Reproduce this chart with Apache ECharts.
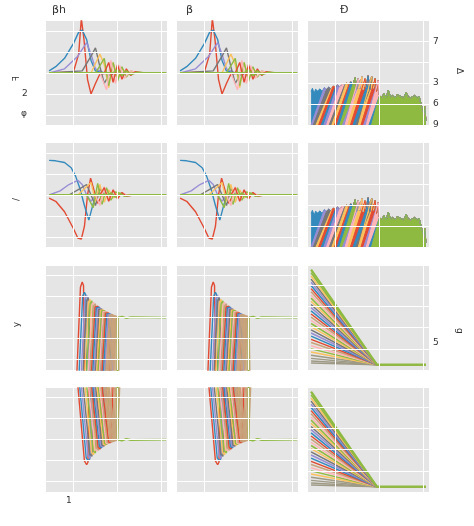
<!DOCTYPE html><html><head><meta charset="utf-8"><script src="https://cdn.jsdelivr.net/npm/echarts@6/dist/echarts.min.js"></script>
<style>html,body{margin:0;padding:0;background:#fff}#c{width:474px;height:526px}</style></head><body><div id="c"></div>
<script>
const palette=['#E24A33','#348ABD','#988ED5','#777777','#FBC15E','#8EBA42','#FFB5B8','#C8A27A'];
const xGridVals=[1,2,3];
const yGridSym=[-2,-1,0,1,2];
const yGridC3a=[1,2,3,4];
const yGridC3b=[0.75,1.75,2.75,3.75];
// row 1 (columns 1 & 2)
const row1Series=[
 [[0.45,0],[1.0,0.05],[1.12,0.9],[1.18,2.6],[1.24,1.6],[1.32,-0.3],[1.4,-1.0],[1.5,-0.5],[1.6,-0.05],[1.8,0],[3.1,0]],
 [[0.45,0.1],[0.6,0.3],[0.8,0.7],[1.0,1.4],[1.12,1.95],[1.2,2.05],[1.3,1.6],[1.4,0.6],[1.5,0.1],[1.7,0],[3.1,0]],
 [[0.45,0],[0.8,0.2],[1.1,0.8],[1.3,1.45],[1.4,0.9],[1.5,0.2],[1.7,0],[3.1,0]],
 [[0.45,0],[1.2,0.1],[1.4,0.8],[1.5,1.2],[1.6,0.3],[1.7,-0.5],[1.8,-0.1],[2,0],[3.1,0]],
 [[0.45,0],[1.4,0],[1.6,0.9],[1.7,0.4],[1.8,-0.7],[1.9,0.5],[2,-0.3],[2.1,0.2],[2.2,0],[3.1,0]],
 [[1.5,0],[1.7,0.7],[1.8,-0.6],[1.9,0.5],[2.0,-0.4],[2.1,0.3],[2.2,-0.2],[2.3,0.1],[2.4,0]],
 [[1.6,0],[1.75,-0.8],[1.85,0.6],[1.95,-0.5],[2.05,0.35],[2.15,-0.25],[2.3,0.1],[2.5,0]],
 [[1.7,0],[1.8,0.5],[1.9,-0.45],[2.0,0.4],[2.1,-0.3],[2.2,0.2],[2.3,-0.12],[2.4,0.06],[2.6,0]],
 [[0.45,0],[1.9,0],[2.0,0.15],[2.1,-0.12],[2.2,0.1],[2.3,-0.07],[2.45,0.03],[2.6,0],[3.1,0]]
];
const row2Series=[
 [[0.45,-0.15],[0.6,-0.3],[0.8,-0.8],[1.0,-1.6],[1.1,-2.05],[1.18,-2.1],[1.25,-1.5],[1.32,0],[1.39,0.8],[1.47,0.2],[1.55,-0.4],[1.65,0],[3.1,0]],
 [[0.45,1.65],[0.6,1.63],[0.8,1.55],[0.95,1.3],[1.05,0.9],[1.15,0.3],[1.25,-0.5],[1.35,-1.2],[1.45,-0.4],[1.55,0],[3.1,0]],
 [[0.45,0],[0.7,0.2],[0.9,0.5],[1.1,0.7],[1.2,0.5],[1.3,0],[1.4,-0.3],[1.5,0],[3.1,0]],
 [[0.9,0],[1.15,0.3],[1.3,0.5],[1.4,0],[1.5,-0.5],[1.6,0.3],[1.7,0],[3.1,0]],
 [[1.1,0],[1.4,0.6],[1.5,-0.3],[1.6,0.5],[1.7,-0.35],[1.8,0.25],[1.9,-0.15],[2.0,0.1],[2.1,0],[3.1,0]],
 [[1.3,0],[1.45,-0.6],[1.55,0.55],[1.65,-0.45],[1.75,0.35],[1.85,-0.25],[1.95,0.15],[2.1,0.05],[2.2,0]],
 [[1.5,0],[1.6,-0.5],[1.7,0.4],[1.8,-0.3],[1.9,0.2],[2.0,-0.15],[2.1,0.1],[2.2,0]],
 [[1.6,0],[1.7,0.35],[1.8,-0.3],[1.9,0.25],[2.0,-0.18],[2.1,0.12],[2.2,-0.06],[2.35,0]],
 [[0.45,0],[1.8,0],[1.85,0.1],[1.95,-0.1],[2.05,0.08],[2.15,-0.05],[2.3,0],[3.1,0]]
];
// rows 3 & 4: peak positions and envelope values
const row3PeakX=[1.2,1.25,1.3,1.34,1.38,1.42,1.46,1.5,1.53,1.56,1.59,1.62,1.65,1.68,1.71,1.74,1.77,1.8,1.83,1.86,1.89,1.92,1.95,1.98];
const row3PeakY=[1.7,1.2,1.05,0.95,0.87,0.8,0.73,0.66,0.6,0.55,0.5,0.45,0.41,0.37,0.33,0.29,0.25,0.21,0.18,0.15,0.12,0.09,0.07,0.05];
const row4PeakX=[1.3,1.34,1.38,1.42,1.46,1.5,1.54,1.58,1.61,1.64,1.67,1.7,1.73,1.76,1.79,1.82,1.85,1.88,1.91,1.94,1.97,2.0];
const row4PeakY=[-1.2,-1.02,-0.9,-0.8,-0.72,-0.64,-0.56,-0.5,-0.45,-0.4,-0.35,-0.31,-0.27,-0.23,-0.2,-0.17,-0.14,-0.11,-0.09,-0.07,-0.05,-0.03];
const plateau=[[2.0,-2.6],[2.0,0],[2.1,0.05],[2.2,-0.03],[2.3,0.02],[3.1,0]];
const plateau4=[[2.0,2.6],[2.0,0],[2.1,-0.05],[2.2,0.03],[2.3,-0.02],[3.1,0]];
// column 3 rows 1-2: noisy outline and stripe starts
const noiseOutline=[[0.45,1.6],[0.48,1.75],[0.52,1.5],[0.55,1.7],[0.6,1.62],[0.65,1.72],[0.7,1.6],[0.75,1.78],[0.8,1.7],[0.85,1.8],[0.9,1.7],[0.95,1.85],[1.0,1.78],[1.05,1.9],[1.1,1.8],[1.15,1.95],[1.2,1.85],[1.25,2.0],[1.3,1.9],[1.35,2.05],[1.4,1.95],[1.45,2.25],[1.48,1.7],[1.52,2.2],[1.55,1.75],[1.6,2.3],[1.63,1.7],[1.67,2.2],[1.7,1.8],[1.74,2.35],[1.78,1.7],[1.82,2.3],[1.86,1.75],[1.9,2.2],[1.93,1.6],[1.97,2.1],[2.0,1.4],[2.05,1.3],[2.1,1.5],[2.15,1.3],[2.2,1.65],[2.25,1.35],[2.3,1.4],[2.35,1.3],[2.4,1.45],[2.5,1.35],[2.55,1.3],[2.6,1.55],[2.65,1.35],[2.7,1.3],[2.8,1.4],[2.85,1.3],[2.9,1.35],[2.95,0.9],[3.0,0.6],[3.02,0.9],[3.05,0.2]];
const stripeStart=[0.45,0.5,0.56,0.62,0.68,0.74,0.8,0.86,0.92,0.98,1.04,1.1,1.16,1.22,1.28,1.34,1.4,1.46,1.52,1.58,1.64,1.7,1.76,1.82];
const stripeTop=[0.75,0.8,0.86,0.92,0.98,1.04,1.1,1.16,1.22,1.28,1.34,1.4,1.46,1.52,1.58,1.64,1.7,1.76,1.82,1.88,1.94,1.97,1.99,2.0];
const stripeColor=[2,3,4,0,1,2,6,3,4,0,1,5,2,6,4,0,1,3,4,0,2,6,1,5];
// column 3 rows 3-4: fan lines start heights
const fanStart=[4.5,4.35,4.2,4.05,3.9,3.75,3.6,3.45,3.3,3.15,3.0,2.85,2.7,2.55,2.4,2.25,2.1,1.95,1.8,1.65,1.5,1.35,1.2,1.05,0.9,0.75,0.6,0.45,0.3,0.18,0.08];
const fanEnd=[1.94,0];
const fanTail=[3.05,0];

const L=[46,177,308],T=[21,143,266,388],W=121,H=104;
const grids=[],xAxes=[],yAxes=[],series=[];
function addGrid(c,r,ymin,ymax,yg){
 const i=grids.length;
 grids.push({left:L[c],top:T[r],width:W,height:H,show:true,backgroundColor:'#E5E5E5',borderWidth:0});
 xAxes.push({type:'value',gridIndex:i,min:0.38,max:3.12,show:false});
 yAxes.push({type:'value',gridIndex:i,min:ymin,max:ymax,show:false});
 series.push({type:'line',xAxisIndex:i,yAxisIndex:i,data:[],silent:true,z:1,
  markLine:{silent:true,symbol:'none',label:{show:false},lineStyle:{color:'#fff',width:1,type:'solid'},
   data:xGridVals.map(v=>({xAxis:v})).concat(yg.map(v=>({yAxis:v})))}});
 return i;
}
function line(i,data,color,w,area){
 series.push({type:'line',xAxisIndex:i,yAxisIndex:i,data,showSymbol:false,symbol:'none',clip:true,z:3,
  lineStyle:{color,width:w||1.4,type:'solid'},areaStyle:area?{color,opacity:1}:undefined,animation:false});
}
for(let c=0;c<2;c++){
 let i=addGrid(c,0,-2.48,2.48,yGridSym);
 row1Series.forEach((d,k)=>line(i,d,k==row1Series.length-1?palette[5]:palette[k%7],k==row1Series.length-1?1.8:1.4));
 i=addGrid(c,1,-2.48,2.48,yGridSym);
 row2Series.forEach((d,k)=>line(i,d,k==row2Series.length-1?palette[5]:palette[k%7],k==row2Series.length-1?1.8:1.4));
 i=addGrid(c,2,-2.5,2.46,yGridSym);
 row3PeakX.forEach((x,k)=>{const p=row3PeakY[k];
  line(i,[[x-0.12,-2.6],[x-0.04,p*0.85],[x,p],[x+0.03,p*0.9],[x+0.05,-2.6]],k>18?palette[7]:palette[k%8]);});
 line(i,plateau,palette[5],1.8);
 i=addGrid(c,3,-2.5,2.46,yGridSym);
 row4PeakX.forEach((x,k)=>{const p=row4PeakY[k];
  line(i,[[x-0.2,2.6],[x-0.05,p*0.85],[x,p],[x+0.03,p*0.9],[x+0.05,2.6]],k>16?palette[7]:palette[k%8]);});
 line(i,plateau4,palette[5],1.8);
}
[0,1].forEach(r=>{
 const i=addGrid(2,r,0,4.95,yGridC3a);
 line(i,noiseOutline,palette[1],1,true);
 stripeStart.forEach((s,k)=>{
  const d=[[s,0]].concat(noiseOutline.filter(p=>p[0]>=stripeTop[k]));
  line(i,d,palette[stripeColor[k]],1,true);
 });
});
[2,3].forEach(r=>{
 const i=addGrid(2,r,-0.25,4.67,yGridC3b);
 fanStart.slice().reverse().forEach((y,k)=>line(i,[[0.45,y],fanEnd,fanTail],y==4.5?palette[5]:(k<4?'#9E9A86':palette[k%8]),y==4.5?2.2:1.5));
});
const txt=(x,y,t,rot,size)=>({type:'text',left:x,top:y,rotation:rot||0,style:{text:t,fill:'#333',font:(size||9)+'px DejaVu Sans'}});
const graphic=[
 txt(52,5,'βh',0,11),txt(186,5,'β',0,11),txt(340,5,'Đ',0,11),
 txt(433,37,'7'),txt(433,78,'3'),txt(433,99,'6'),txt(433,120,'9'),txt(433,338,'5'),
 txt(22,89,'2'),txt(21,109,'φ'),txt(12,76,'ꟻ',Math.PI/2),txt(12,198,'/',Math.PI/2),txt(12,322,'y',Math.PI/2),
 txt(455,68,'Δ',-Math.PI/2),txt(455,328,'g',-Math.PI/2),txt(66,496,'1')
];
const ch=echarts.init(document.getElementById('c'),null,{renderer:'canvas'});
ch.setOption({animation:false,grid:grids,xAxis:xAxes,yAxis:yAxes,series,graphic});
</script></body></html>
